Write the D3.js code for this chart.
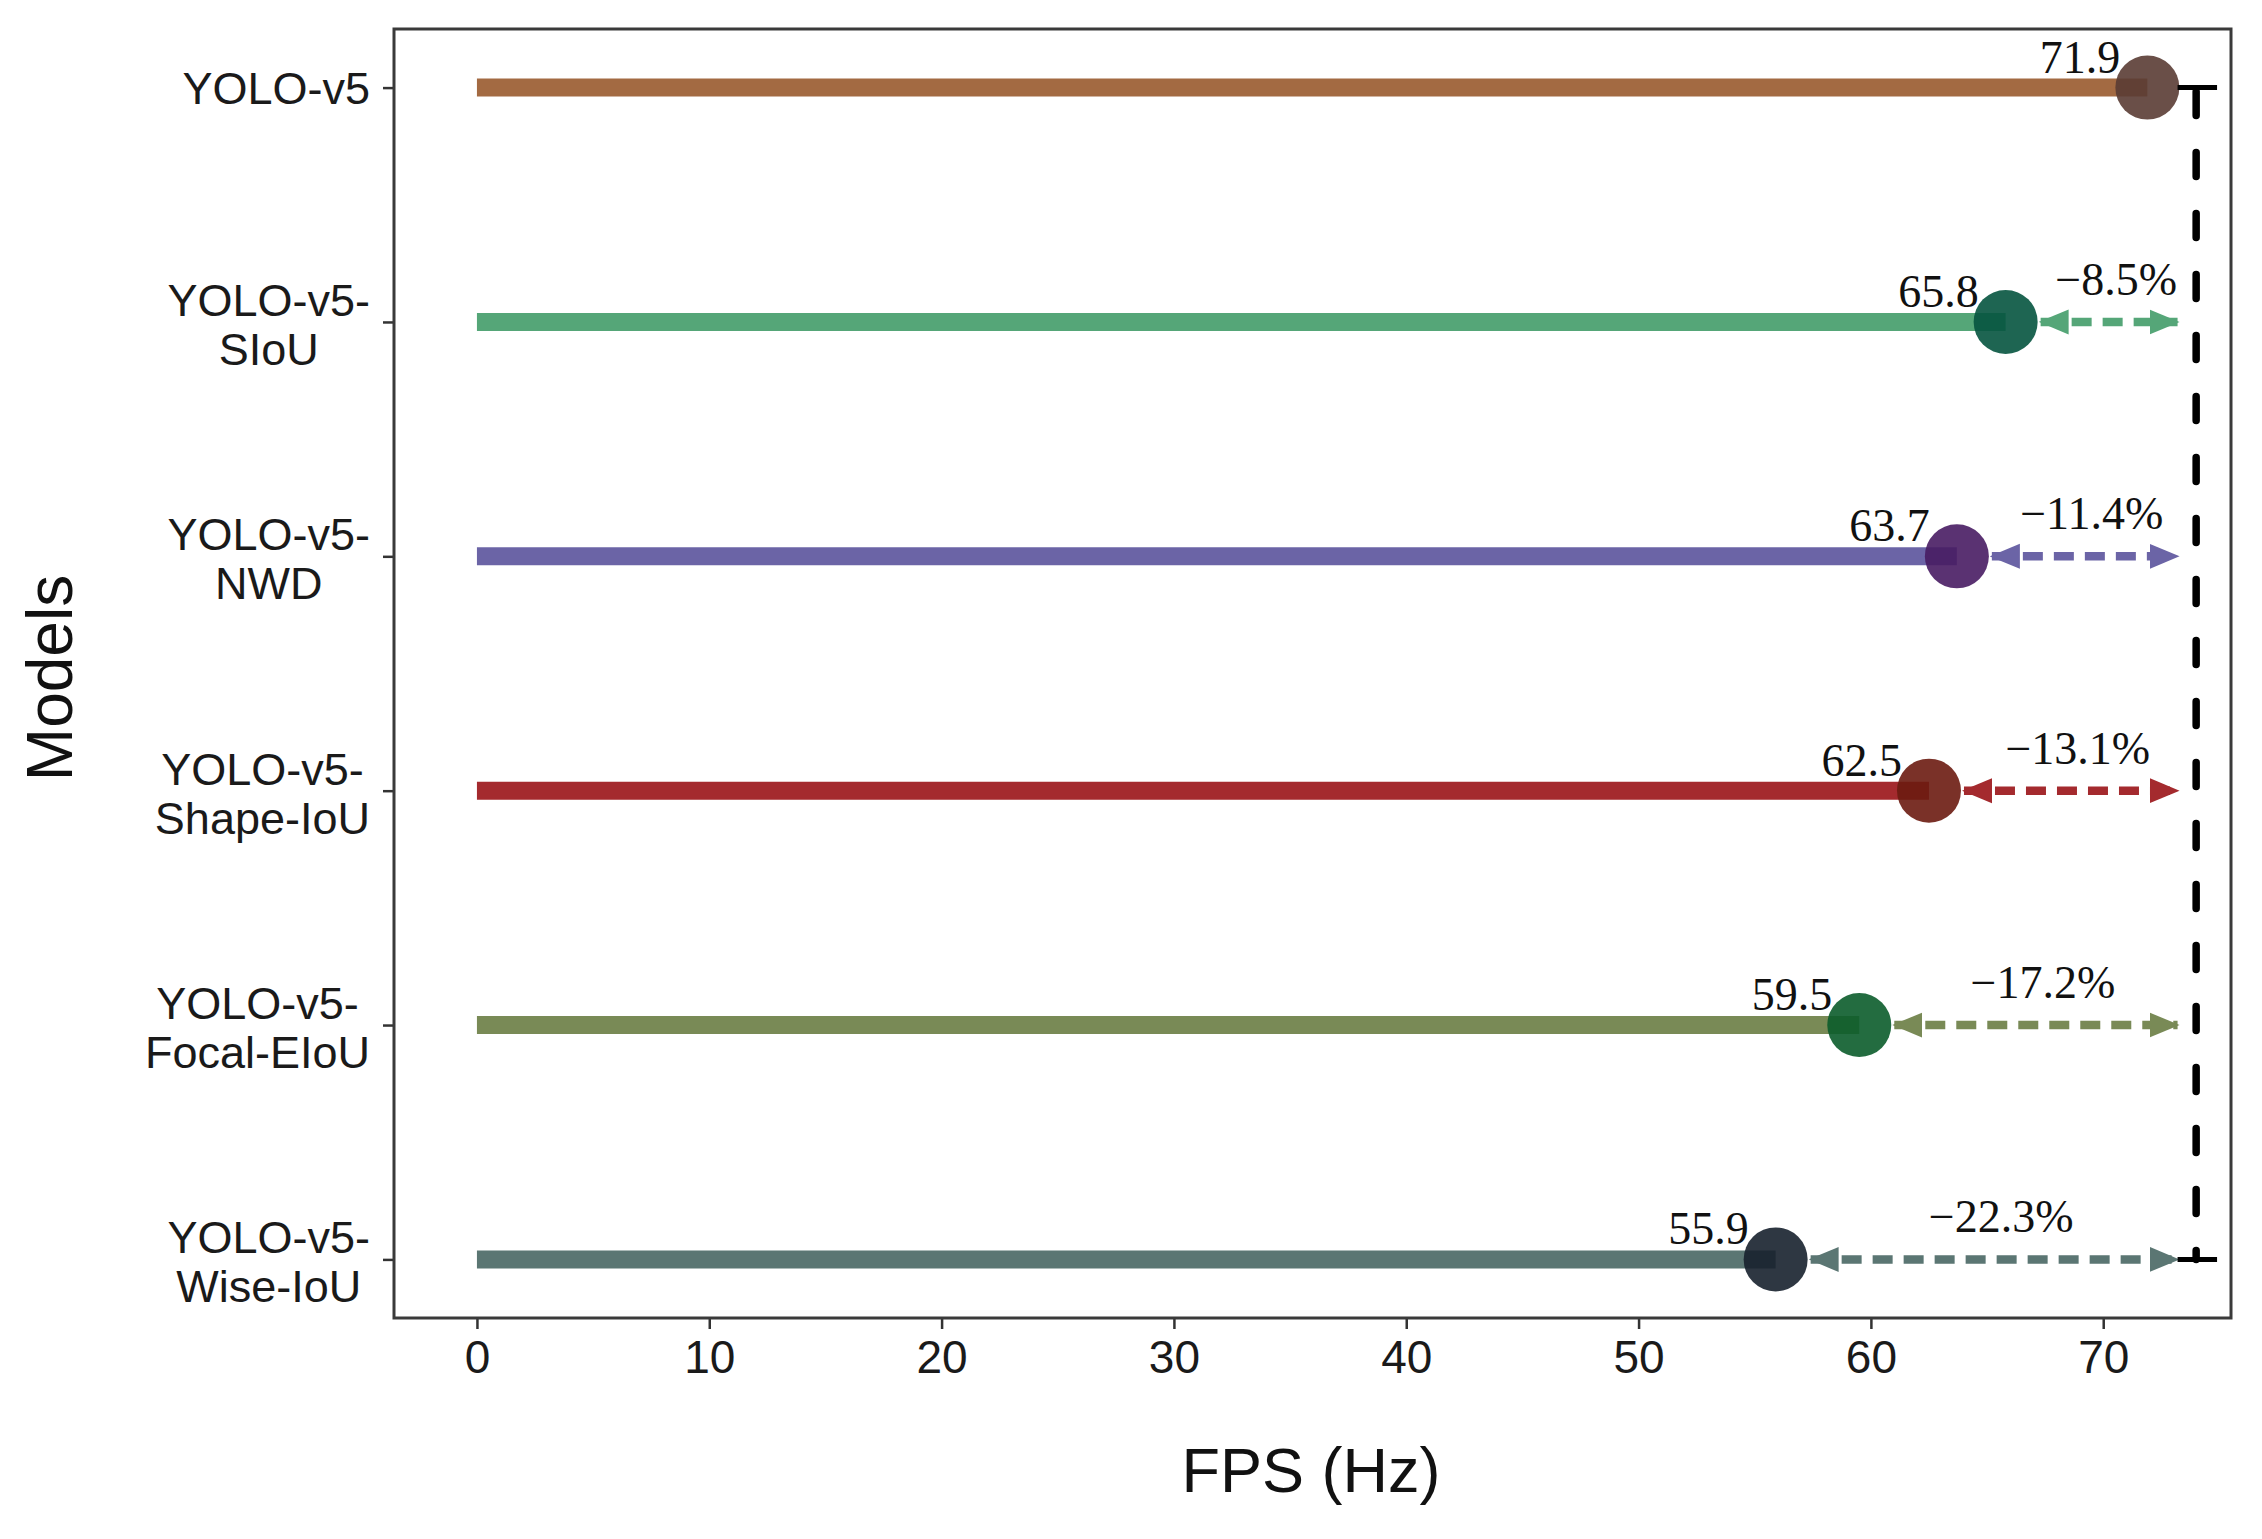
<!DOCTYPE html>
<html>
<head>
<meta charset="utf-8">
<script src="https://cdn.jsdelivr.net/npm/d3@7"></script>
<style>
  body { margin: 0; background: #fff; }
  svg { display: block; }
</style>
</head>
<body>
<svg id="chart"></svg>
<script>
// data
const models = ["YOLO-v5", "YOLO-v5-SIoU", "YOLO-v5-NWD", "YOLO-v5-Shape-IoU", "YOLO-v5-Focal-EIoU", "YOLO-v5-Wise-IoU"];
const modelLines = [["YOLO-v5"], ["YOLO-v5-", "SIoU"], ["YOLO-v5-", "NWD"], ["YOLO-v5-", "Shape-IoU"], ["YOLO-v5-", "Focal-EIoU"], ["YOLO-v5-", "Wise-IoU"]];
const fps = [71.9, 65.8, 63.7, 62.5, 59.5, 55.9];
const drops = ["", "\u22128.5%", "\u221211.4%", "\u221213.1%", "\u221217.2%", "\u221222.3%"];
const barColors = ["#a36a42", "#55a678", "#6b64a6", "#a42a2e", "#798a56", "#5b7673"];
const dotColors = ["#5a3c34", "#05543f", "#481c63", "#6b1b11", "#0b5c2b", "#17212d"];
const xTicks = [0, 10, 20, 30, 40, 50, 60, 70];
const xDomain = [-3.57, 75.5];
const refValue = 74;       // dashed reference line
const arrowEnd = 73.2;     // where the arrows stop
const capEnd = 74.9;

const width = 2262;
const height = 1539;
const frame = { left: 394, top: 29, right: 2231, bottom: 1318 };
const sans = "'Liberation Sans', Arial, sans-serif";
const serif = "'Liberation Serif', 'Times New Roman', serif";
const r = 32;

const rows = models.map((m, i) => ({
    model: m,
    lines: modelLines[i],
    value: fps[i],
    drop: drops[i],
    bar: barColors[i],
    dot: dotColors[i],
    i
}));

const svg = d3.select("#chart").attr("width", width).attr("height", height);
svg.append("rect").attr("width", width).attr("height", height).attr("fill", "#fff");

const x = d3.scaleLinear().domain(xDomain).range([frame.left, frame.right]);
const y = d3.scalePoint().domain(models).range([frame.top, frame.bottom]).padding(0.25);

// arrow heads, one marker per colour
const defs = svg.append("defs");
rows.forEach(d => {
    defs.append("marker")
        .attr("id", "head" + d.i)
        .attr("markerUnits", "userSpaceOnUse")
        .attr("viewBox", "0 -14 30 28")
        .attr("markerWidth", 30)
        .attr("markerHeight", 28)
        .attr("refX", 28)
        .attr("refY", 0)
        .attr("orient", "auto-start-reverse")
        .append("path")
        .attr("d", "M0,-12.5L30,0L0,12.5Z")
        .attr("fill", d.bar);
});

// x axis
const xAxis = svg.append("g")
    .attr("transform", `translate(0,${frame.bottom})`)
    .call(d3.axisBottom(x).tickValues(xTicks).tickSize(11).tickPadding(11).tickSizeOuter(0));
xAxis.select(".domain").remove();
xAxis.selectAll(".tick line").attr("stroke", "#333").attr("stroke-width", 2.5);
xAxis.selectAll(".tick text")
    .attr("font-family", sans)
    .attr("font-size", 46)
    .attr("fill", "#1a1a1a");

// y axis ticks, labels written by hand (two lines, centred)
const yAxis = svg.append("g")
    .attr("transform", `translate(${frame.left},0)`)
    .call(d3.axisLeft(y).tickSize(11).tickFormat(""));
yAxis.select(".domain").remove();
yAxis.selectAll(".tick line").attr("stroke", "#333").attr("stroke-width", 2.5);

const labelRight = frame.left - 24;
rows.forEach(d => {
    const g = svg.append("g").attr("font-family", sans).attr("font-size", 45).attr("fill", "#1a1a1a");
    const texts = d.lines.map(s => g.append("text").text(s));
    const maxW = d3.max(texts, t => t.node().getComputedTextLength());
    const cx = labelRight - maxW / 2;
    if (d.lines.length === 1) {
        texts[0].attr("x", cx).attr("y", y(d.model)).attr("dy", "0.36em").attr("text-anchor", "middle");
    } else {
        texts[0].attr("x", cx).attr("y", y(d.model) - 6).attr("text-anchor", "middle");
        texts[1].attr("x", cx).attr("y", y(d.model) + 43).attr("text-anchor", "middle");
    }
});

// bars
svg.append("g")
    .selectAll("line")
    .data(rows)
    .join("line")
    .attr("x1", x(0))
    .attr("x2", d => x(d.value))
    .attr("y1", d => y(d.model))
    .attr("y2", d => y(d.model))
    .attr("stroke", d => d.bar)
    .attr("stroke-width", 18);

// dots
svg.append("g")
    .selectAll("circle")
    .data(rows)
    .join("circle")
    .attr("cx", d => x(d.value))
    .attr("cy", d => y(d.model))
    .attr("r", r)
    .attr("fill", d => d.dot)
    .attr("fill-opacity", 0.9);

// value labels
svg.append("g")
    .attr("font-family", serif)
    .attr("font-size", 46)
    .attr("fill", "#111")
    .selectAll("text")
    .data(rows)
    .join("text")
    .attr("x", d => x(d.value) - 27)
    .attr("y", d => y(d.model) - 15)
    .attr("text-anchor", "end")
    .text(d => d.value.toFixed(1));

// double arrows to the reference
const others = rows.filter(d => d.drop !== "");
svg.append("g")
    .selectAll("line")
    .data(others)
    .join("line")
    .attr("x1", d => x(d.value) + r + 3)
    .attr("x2", x(arrowEnd))
    .attr("y1", d => y(d.model))
    .attr("y2", d => y(d.model))
    .attr("stroke", d => d.bar)
    .attr("stroke-width", 8.5)
    .attr("stroke-dasharray", "20,11")
    .attr("marker-start", d => `url(#head${d.i})`)
    .attr("marker-end", d => `url(#head${d.i})`);

svg.append("g")
    .attr("font-family", serif)
    .attr("font-size", 46)
    .attr("fill", "#111")
    .selectAll("text")
    .data(others)
    .join("text")
    .attr("x", d => (x(d.value) + r + 3 + x(arrowEnd)) / 2 + 7)
    .attr("y", d => y(d.model) - 27)
    .attr("text-anchor", "middle")
    .text(d => d.drop);

// dashed reference line with caps
const first = models[0];
const last = models[models.length - 1];
svg.append("line")
    .attr("x1", x(refValue)).attr("x2", x(refValue))
    .attr("y1", y(first) + 4).attr("y2", y(last))
    .attr("stroke", "#000")
    .attr("stroke-width", 7.5)
    .attr("stroke-linecap", "round")
    .attr("stroke-dasharray", "24,37");
[first, last].forEach(m => {
    svg.append("line")
        .attr("x1", x(arrowEnd)).attr("x2", x(capEnd))
        .attr("y1", y(m)).attr("y2", y(m))
        .attr("stroke", "#000")
        .attr("stroke-width", 5);
});

// frame
svg.append("rect")
    .attr("x", frame.left)
    .attr("y", frame.top)
    .attr("width", frame.right - frame.left)
    .attr("height", frame.bottom - frame.top)
    .attr("fill", "none")
    .attr("stroke", "#3a3a3a")
    .attr("stroke-width", 3);

// axis titles
svg.append("text")
    .attr("x", 1311)
    .attr("y", 1492)
    .attr("text-anchor", "middle")
    .attr("font-family", sans)
    .attr("font-size", 63)
    .attr("fill", "#111")
    .text("FPS (Hz)");

svg.append("text")
    .attr("transform", "translate(72,678) rotate(-90)")
    .attr("text-anchor", "middle")
    .attr("font-family", sans)
    .attr("font-size", 64)
    .attr("fill", "#111")
    .text("Models");
</script>
</body>
</html>
